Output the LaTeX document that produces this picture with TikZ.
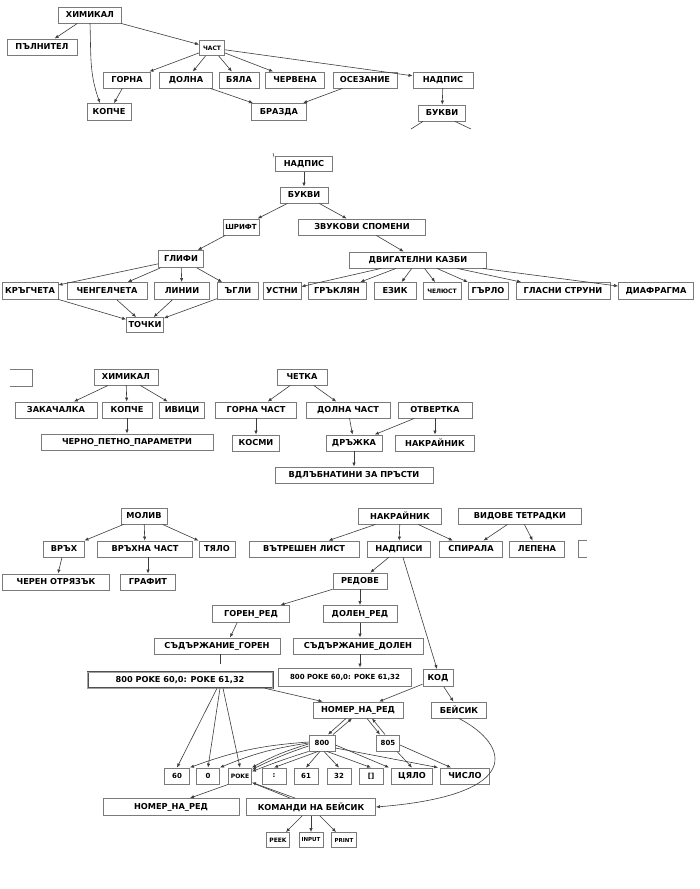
\documentclass[tikz,border=0pt]{standalone}
\usepackage{fontspec}
\setmainfont{DejaVu Sans}
\usetikzlibrary{arrows.meta}
\definecolor{boxc}{HTML}{7A7A7A}
\definecolor{edgec}{HTML}{3C3C3C}
\tikzset{
  bx/.style={draw=boxc, line width=0.9pt, fill=white, inner sep=0pt,
    minimum height=16pt, text=black, font=\bfseries\fontsize{8.2}{9}\selectfont},
  sm/.style={font=\bfseries\fontsize{7}{8}\selectfont},
  xs/.style={font=\bfseries\fontsize{6}{7}\selectfont},
  thick box/.style={line width=0.6pt, draw=edgec!90, double=boxc!70, double distance=0.8pt},
  ar/.style={draw=edgec, line width=0.6pt, -{Latex[length=4pt,width=3.4pt]}},
  ln/.style={draw=edgec, line width=0.6pt},
}
\newcommand\B[6][]{\node[bx,minimum width=#5pt,#1] (#2) at (#3,#4) {#6};}
\begin{document}
\begin{tikzpicture}[x=1pt,y=-1pt]
\useasboundingbox[fill=white] (0,0) rectangle (700,889);
% ---------- section 1
\B{a1}{90}{15}{63}{ХИМИКАЛ}
\B{a2}{42}{47}{70}{ПЪЛНИТЕЛ}
\B[xs,minimum height=15pt]{a3}{212}{48}{25}{ЧАСТ}
\B{a4}{127}{80}{47}{ГОРНА}
\B{a5}{186}{80}{53}{ДОЛНА}
\B{a6}{239}{80}{40}{БЯЛА}
\B{a7}{295}{80}{59}{ЧЕРВЕНА}
\B{a8}{365}{80}{64}{ОСЕЗАНИЕ}
\B{a9}{443}{80}{60}{НАДПИС}
\B[minimum height=17pt]{a10}{109}{112}{44}{КОПЧЕ}
\B[minimum height=17pt]{a11}{279}{112}{55}{БРАЗДА}
\B{a12}{442}{113}{47}{БУКВИ}
\coordinate (t1) at (411,129);
\coordinate (t2) at (471,129);
\draw[ar] (a1) -- (a2);
\draw[ar] (a1) -- (a3);
\draw[ar] (a1.south) to[out=-88,in=110] ([xshift=-9]a10.north);
\foreach \t in {a4,a5,a6,a7,a9} \draw[ar] (a3) -- (\t);
\draw[ar] (a4) -- (a10);
\draw[ar] (a5) -- (a11);
\draw[ar] (a8) -- (a11);
\draw[ar] (a9) -- (a12);
\draw[ln] ([xshift=-19]a12.south) -- (t1);
\draw[ln] ([xshift=13]a12.south) -- (t2);
% ---------- section 2
\draw[ln] (273,153) -- (274,157);
\B[minimum height=15pt]{b1}{304}{164}{57}{НАДПИС}
\B{b2}{304}{195}{48}{БУКВИ}
\B[sm]{b3}{241}{227}{36}{ШРИФТ}
\B{b4}{362}{227}{127}{ЗВУКОВИ СПОМЕНИ}
\B[minimum height=17pt]{b5}{181}{259}{45}{ГЛИФИ}
\B{b6}{418}{260}{137}{ДВИГАТЕЛНИ КАЗБИ}
\B[minimum height=17pt]{b7}{30}{291}{56}{КРЪГЧЕТА}
\B[minimum height=17pt]{b8}{107}{291}{80}{ЧЕНГЕЛЧЕТА}
\B[minimum height=17pt]{b9}{182}{291}{55}{ЛИНИИ}
\B[minimum height=17pt]{b10}{238}{291}{41}{ЪГЛИ}
\B[minimum height=17pt]{b11}{282}{291}{38}{УСТНИ}
\B[minimum height=17pt]{b12}{337}{291}{58}{ГРЪКЛЯН}
\B[minimum height=17pt]{b13}{395}{291}{42}{ЕЗИК}
\B[xs,minimum height=17pt]{b14}{442}{291}{38}{ЧЕЛЮСТ}
\B[minimum height=17pt]{b15}{488}{291}{40}{ГЪРЛО}
\B[minimum height=17pt]{b16}{563}{291}{94}{ГЛАСНИ СТРУНИ}
\B[minimum height=17pt]{b17}{656}{291}{75}{ДИАФРАГМА}
\B[minimum height=15pt]{b18}{145}{325}{37}{ТОЧКИ}
\draw[ar] (b1) -- (b2);
\draw[ar] (b2) -- (b3);
\draw[ar] (b2) -- (b4);
\draw[ar] (b3) -- (b5);
\draw[ar] (b4) -- (b6);
\foreach \t in {b7,b8,b9,b10} \draw[ar] (b5) -- (\t);
\foreach \t in {b11,b12,b13,b14,b15,b16,b17} \draw[ar] (b6) -- (\t);
\foreach \s in {b7,b8,b9,b10} \draw[ar] (\s) -- (b18);
% ---------- section 3
\draw[draw=boxc, line width=0.9pt] (10,369) -- (32,369) -- (32,386) -- (10,386);
\B{c1}{126}{377}{64}{ХИМИКАЛ}
\B{c2}{56}{410}{82}{ЗАКАЧАЛКА}
\B{c3}{127}{410}{50}{КОПЧЕ}
\B{c4}{182}{410}{45}{ИВИЦИ}
\B{c5}{127}{442}{172}{ЧЕРНО\_ПЕТНО\_ПАРАМЕТРИ}
\B{c6}{302}{377}{50}{ЧЕТКА}
\B{c7}{256}{410}{81}{ГОРНА ЧАСТ}
\B{c8}{348}{410}{84}{ДОЛНА ЧАСТ}
\B{c9}{435}{410}{74}{ОТВЕРТКА}
\B{c10}{256}{443}{47}{КОСМИ}
\B{c11}{354}{443}{56}{ДРЪЖКА}
\B{c12}{435}{443}{79}{НАКРАЙНИК}
\B{c13}{354}{475}{158}{ВДЛЪБНАТИНИ ЗА ПРЪСТИ}
\foreach \t in {c2,c3,c4} \draw[ar] (c1) -- (\t);
\draw[ar] (c3) -- (c5);
\draw[ar] (c6) -- (c7);
\draw[ar] (c6) -- (c8);
\draw[ar] (c7) -- (c10);
\draw[ar] (c8) -- (c11);
\draw[ar] (c9) -- (c11);
\draw[ar] (c9) -- (c12);
\draw[ar] (c11) -- (c13);
% ---------- section 4
\B{d1}{144}{516}{46}{МОЛИВ}
\B{d2}{64}{549}{41}{ВРЪХ}
\B{d3}{145}{549}{95}{ВРЪХНА ЧАСТ}
\B{d4}{217}{549}{36}{ТЯЛО}
\B{d5}{56}{582}{107}{ЧЕРЕН ОТРЯЗЪК}
\B{d6}{148}{582}{55}{ГРАФИТ}
\B{d7}{400}{516}{83}{НАКРАЙНИК}
\B{d8}{520}{516}{123}{ВИДОВЕ ТЕТРАДКИ}
\B{d9}{304}{549}{110}{ВЪТРЕШЕН ЛИСТ}
\B{d10}{399}{549}{63}{НАДПИСИ}
\B{d11}{471}{549}{63}{СПИРАЛА}
\B{d12}{537}{549}{55}{ЛЕПЕНА}
\draw[draw=boxc, line width=0.9pt] (587,540) -- (578,540) -- (578,557) -- (587,557);
\B{d13}{360}{581}{54}{РЕДОВЕ}
\B[minimum height=17pt]{d14}{251}{614}{77}{ГОРЕН\_РЕД}
\B[minimum height=17pt]{d15}{360}{614}{74}{ДОЛЕН\_РЕД}
\B{d16}{217}{646}{126}{СЪДЪРЖАНИЕ\_ГОРЕН}
\B{d17}{358}{646}{130}{СЪДЪРЖАНИЕ\_ДОЛЕН}
\B[thick box]{d18}{180}{680}{185}{800 POKE 60,0: POKE 61,32}
\B[sm,minimum height=18pt]{d19}{345}{677}{133}{800 POKE 60,0: POKE 61,32}
\B[minimum height=17pt]{d20}{438}{678}{30}{КОД}
\B{d21}{358}{710}{90}{НОМЕР\_НА\_РЕД}
\B{d22}{459}{710}{55}{БЕЙСИК}
\B[sm]{d23}{322}{743}{26}{800}
\B[sm]{d24}{388}{743}{23}{805}
\B[sm]{e1}{177}{776}{25}{60}
\B[sm]{e2}{208}{776}{23}{0}
\B[xs]{e3}{240}{776}{23}{POKE}
\B[sm]{e4}{274}{776}{24}{:}
\B[sm]{e5}{306}{776}{24}{61}
\B[sm]{e6}{339}{776}{24}{32}
\B[sm]{e7}{371}{776}{24}{[]}
\B{e8}{412}{776}{41}{ЦЯЛО}
\B{e9}{465}{776}{49}{ЧИСЛО}
\B[minimum height=17pt]{f1}{171}{807}{136}{НОМЕР\_НА\_РЕД}
\B[minimum height=17pt]{f2}{311}{807}{129}{КОМАНДИ НА БЕЙСИК}
\B[xs,minimum height=15pt]{g1}{278}{840}{23}{PEEK}
\B[font=\bfseries\fontsize{5.5}{6}\selectfont,minimum height=15pt]{g2}{311}{840}{24}{INPUT}
\B[font=\bfseries\fontsize{5.5}{6}\selectfont,minimum height=15pt]{g3}{344}{840}{25}{PRINT}
\coordinate (sgEnd) at (220,664);
% edges section 4
\foreach \t in {d2,d3,d4} \draw[ar] (d1) -- (\t);
\draw[ar] (d2) -- (d5);
\draw[ar] (d3.south -| d6) -- (d6);
\foreach \t in {d9,d10,d11} \draw[ar] (d7) -- (\t);
\draw[ar] (d8) -- (d11);
\draw[ar] (d8) -- (d12);
\draw[ar] (d10) -- (d13);
\draw[ar] ([xshift=4]d10.south) -- ([xshift=-1]d20.north);
\draw[ar] (d13) -- (d14);
\draw[ar] (d13) -- (d15);
\draw[ar] ([xshift=-14]d14.south) -- ([xshift=13]d16.north);
\draw[ar] (d15.south) -- (d15.south |- d17.north);
\draw[ln] (d16.south -| sgEnd) -- (sgEnd);
\draw[ar] (d17.south -| d15.south) -- (d19.north -| d15.south);
\draw[ar] (d20) -- (d21);
\draw[ar] (d20) -- (d22);
\draw[ar] ([xshift=85]d18.south) -- ([xshift=10]d21.north west);
\draw[ar] ([xshift=37]d18.south) -- (e1.north);
\draw[ar] ([xshift=40]d18.south) -- (e2.north);
\draw[ar] ([xshift=43]d18.south) -- (e3.north);
% NOMER <-> 800 / 805
\draw[ar] ([xshift=-12]d21.south) -- ([xshift=6]d23.north);
\draw[ar] ([xshift=11]d23.north) -- ([xshift=-6]d21.south);
\draw[ar] ([xshift=9]d21.south) -- ([xshift=-8]d24.north);
\draw[ar] ([xshift=-3]d24.north) -- ([xshift=14]d21.south);
% 800 -> row
\draw[ar] ([yshift=1]d23.west) to[bend right=8] (e1.north east);
\draw[ar] ([yshift=0]d23.west) to[bend right=7] (e2.north east);
\draw[ar] ([yshift=-1]d23.west) to[bend right=6] (e3.north east);
\draw[ar] ([yshift=-3]d23.west) to[bend right=4] ([yshift=-2]e3.north east);
\draw[ar] (d23.south west) to[bend right=2] ([yshift=-4]e3.north east);
\draw[ar] ([xshift=-4]d23.south) -- (e4.north);
\draw[ar] ([xshift=-2]d23.south) -- (e5.north);
\draw[ar] ([xshift=2]d23.south) -- (e6.north);
\draw[ar] ([xshift=5]d23.south) -- (e7.north);
\draw[ar] ([yshift=-2]d23.east) -- ([xshift=-2]e8.north west);
\draw[ar] ([yshift=-5]d23.east) -- ([xshift=-2]e9.north west);
\draw[ar] ([xshift=9]d24.south) -- (e8.north);
\draw[ar] ([yshift=-2]d24.east) -- ([xshift=-14]e9.north);
% POKE, commands
\draw[ar] (e3.south west) -- ([xshift=19]f1.north);
\draw[ar] ([xshift=-16]f2.north) -- ([yshift=2]e3.south east);
\draw[ln] ([xshift=-21]f2.north) -- ([xshift=2,yshift=1]e3.south east);
\draw[ar] (d22.south) .. controls (510,745) and (525,795) .. (f2.east);
\draw[ar] (f2) -- (g1);
\draw[ar] (f2) -- (g2);
\draw[ar] (f2) -- (g3);
\end{tikzpicture}
\end{document}
